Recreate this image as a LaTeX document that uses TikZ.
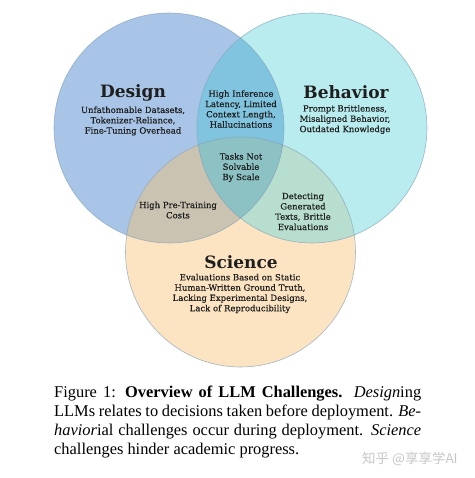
\documentclass[tikz,border=0pt]{standalone}
\usepackage{fontspec}
\setmainfont{DejaVu Serif}
\newfontfamily\bodyfont[FakeBold=0.35]{DejaVu Serif}
\newfontfamily\capfont{Liberation Serif}
\newfontfamily\cjkfont{Noto Sans CJK SC}
\definecolor{dcol}{HTML}{A8C4E6}
\definecolor{bcol}{HTML}{B8ECEE}
\definecolor{scol}{HTML}{FCE4C2}
\definecolor{dbcol}{HTML}{80C4DF}
\definecolor{dscol}{HTML}{CBC3B2}
\definecolor{bscol}{HTML}{B7DECF}
\definecolor{allcol}{HTML}{8CC2C4}
\definecolor{edgecol}{HTML}{7F9FB8}
\definecolor{txtcol}{HTML}{1E1E1E}
\begin{document}
\begin{tikzpicture}[x=1pt,y=-1pt,
  title/.style={anchor=base, inner sep=0pt, text=txtcol, font=\fontsize{17}{20}\selectfont\bfseries},
  body/.style={anchor=center, inner sep=0pt, align=center, text=txtcol, font=\bodyfont\fontsize{8.5}{10.3}\selectfont},
  capline/.style={anchor=base west, inner sep=0pt, font=\capfont\fontsize{16.4}{19}\selectfont},
  ring/.style={draw=edgecol, draw opacity=0.7, line width=0.6pt}]
\useasboundingbox (0,0) rectangle (474,478);
\fill[white] (0,0) rectangle (474,478);
\coordinate (D) at (169,128);
\coordinate (B) at (312,128);
\coordinate (S) at (240.5,252);
% base fills
\fill[dcol] (D) circle[radius=115pt];
\fill[bcol] (B) circle[radius=115pt];
\fill[scol] (S) circle[radius=115pt];
\begin{scope}
  \clip (B) circle[radius=115pt];
  \fill[bscol] (S) circle[radius=115pt];
\end{scope}
\begin{scope}
  \clip (D) circle[radius=115pt];
  \fill[dbcol] (B) circle[radius=115pt];
  \fill[dscol] (S) circle[radius=115pt];
  \clip (B) circle[radius=115pt];
  \fill[allcol] (S) circle[radius=115pt];
\end{scope}
\draw[ring] (D) circle[radius=115pt];
\draw[ring] (B) circle[radius=115pt];
\draw[ring] (S) circle[radius=115pt];
% texts
\node[title] (dt) at (133,97.5) {Design};
\node[body] (db) at (133,121) {Unfathomable Datasets,\\Tokenizer-Reliance,\\Fine-Tuning Overhead};
\node[title] (bt) at (346,99) {Behavior};
\node[body] (bb) at (345,119.5) {Prompt Brittleness,\\Misaligned Behavior,\\Outdated Knowledge};
\node[title] (st) at (241,268) {Science};
\node[body] (sb) at (240,293.5) {Evaluations Based on Static\\Human-Written Ground Truth,\\Lacking Experimental Designs,\\Lack of Reproducibility};
\node[body] (dbx) at (241,109) {High Inference\\Latency, Limited\\Context Length,\\Hallucinations};
\node[body] (all) at (241,167.5) {Tasks Not\\Solvable\\By Scale};
\node[body] (dsx) at (178,210) {High Pre-Training\\Costs};
\node[body] (bsx) at (303,211.5) {Detecting\\Generated\\Texts, Brittle\\Evaluations};
% caption
\node[capline] (c1) at (54,397) {\makebox[367pt][s]{Figure 1: \textbf{Overview of LLM Challenges.} \textit{Design}ing}};
\node[capline] (c2) at (54,416) {\makebox[367pt][s]{LLMs relates to decisions taken before deployment. \textit{Be-}}};
\node[capline] (c3) at (54,435) {\makebox[367pt][s]{\textit{havior}ial challenges occur during deployment. \textit{Science}}};
\node[capline] (c4) at (54,454) {challenges hinder academic progress.};
\node[anchor=base west, inner sep=0pt, text=black!22, font=\cjkfont\fontsize{13.5}{15}\selectfont] (wm) at (362,463) {知乎 @享享学AI};
\end{tikzpicture}
\end{document}
